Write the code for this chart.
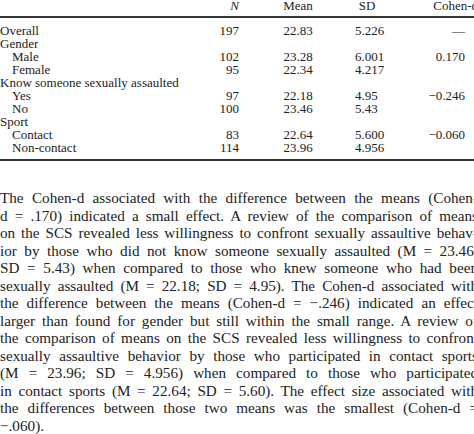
<!DOCTYPE html>
<html>
<head>
<meta charset="utf-8">
<script src="https://cdn.jsdelivr.net/npm/chart.js"></script>
<style>
  body { margin: 0; width: 474px; height: 434px; overflow: hidden; background: #fff;
         font-family: "Liberation Serif", "DejaVu Serif", serif; color: #222; }
  #tbl { position: absolute; left: 0; top: 0; width: 474px; font-size: 13px; }
  .cell { position: absolute; white-space: nowrap; line-height: 13px; }
  .rule { position: absolute; left: 0; width: 474px; background: #333; }
  #para { position: absolute; left: 0; top: 189px; width: 478px; font-size: 15.2px; }
  .ln { height: 17.5px; line-height: 17.5px; text-align: justify; text-align-last: justify; white-space: nowrap; }
  .ln.last { text-align-last: left; }
</style>
</head>
<body>
<div id="tbl"></div>
<div id="para"></div>
<script>
var headers = ["N", "Mean", "SD", "Cohen-d"];
var rowLabels = ["Overall", "Gender", "Male", "Female", "Know someone sexually assaulted", "Yes", "No", "Sport", "Contact", "Non-contact"];
var indent = [0, 0, 1, 1, 0, 1, 1, 0, 1, 1];
var nValues = ["197", "", "102", "95", "", "97", "100", "", "83", "114"];
var means = ["22.83", "", "23.28", "22.34", "", "22.18", "23.46", "", "22.64", "23.96"];
var sds = ["5.226", "", "6.001", "4.217", "", "4.95", "5.43", "", "5.600", "4.956"];
var cohen = ["\u2014", "", "0.170", "", "", "\u22120.246", "", "", "\u22120.060", ""];
var paraLines = [
  "The Cohen-d associated with the difference between the means (Cohen-",
  "d = .170) indicated a small effect. A review of the comparison of means",
  "on the SCS revealed less willingness to confront sexually assaultive behav-",
  "ior by those who did not know someone sexually assaulted (M = 23.46;",
  "SD = 5.43) when compared to those who knew someone who had been",
  "sexually assaulted (M = 22.18; SD = 4.95). The Cohen-d associated with",
  "the difference between the means (Cohen-d = \u2212.246) indicated an effect",
  "larger than found for gender but still within the small range. A review of",
  "the comparison of means on the SCS revealed less willingness to confront",
  "sexually assaultive behavior by those who participated in contact sports",
  "(M = 23.96; SD = 4.956) when compared to those who participated",
  "in contact sports (M = 22.64; SD = 5.60). The effect size associated with",
  "the differences between those two means was the smallest (Cohen-d =",
  "\u2212.060)."
];

var tbl = document.getElementById('tbl');
function cell(text, x, y, align, italic) {
  var d = document.createElement('div');
  d.className = 'cell';
  d.textContent = text;
  d.style.top = y + 'px';
  if (align === 'right') d.style.right = (474 - x) + 'px';
  else if (align === 'center') { d.style.left = (x - 50) + 'px'; d.style.width = '100px'; d.style.textAlign = 'center'; }
  else d.style.left = x + 'px';
  if (italic) d.style.fontStyle = 'italic';
  tbl.appendChild(d);
}
function rule(y, h) {
  var r = document.createElement('div');
  r.className = 'rule';
  r.style.top = y + 'px';
  r.style.height = h + 'px';
  tbl.appendChild(r);
}
cell(headers[0], 239, -1, 'right', true);
cell(headers[1], 298, -1, 'center');
cell(headers[2], 367, -1, 'center');
cell(headers[3], 478, -1, 'right');
rule(16, 2);
rowLabels.forEach(function(lab, i) {
  var y = 24 + i * 13;
  cell(lab, indent[i] ? 12 : 0, y, 'left');
  cell(nValues[i], 239, y, 'right');
  cell(means[i], 298, y, 'center');
  cell(sds[i], 355, y, 'left');
  cell(cohen[i], 465, y, 'right');
});
rule(159, 2);

var para = document.getElementById('para');
paraLines.forEach(function(t, i) {
  var d = document.createElement('div');
  d.className = 'ln' + (i === paraLines.length - 1 ? ' last' : '');
  d.textContent = t;
  para.appendChild(d);
});
</script>
</body>
</html>
